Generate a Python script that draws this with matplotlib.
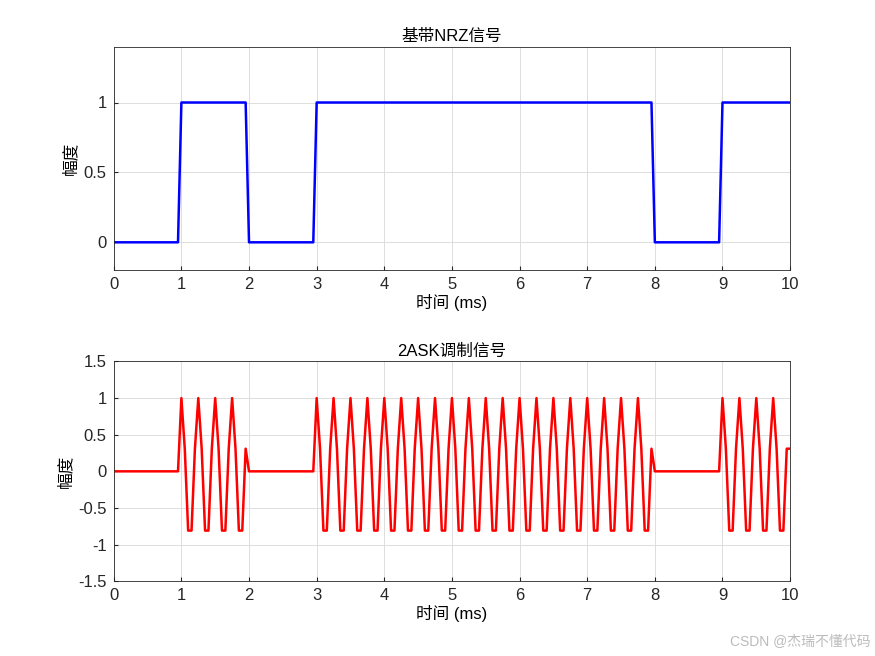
import matplotlib.pyplot as plt
import numpy as np

plt.rcParams['font.family'] = ['Liberation Sans', 'Noto Sans CJK SC']

# data
bits = [0, 1, 0, 1, 1, 1, 1, 1, 0, 1]
step = 0.05                                   # ms per sample
carrier_period = [1.0, 0.309, -0.809, -0.809, 0.309]   # one carrier cycle samples
cycles_per_bit = 4

t = np.arange(0, len(bits) + step / 2, step)
n_per_bit = len(carrier_period) * cycles_per_bit
nrz = []
ask = []
for i in range(len(t)):
    k = min(i // n_per_bit, len(bits) - 1)
    j = i - k * n_per_bit
    nrz.append(bits[k])
    ask.append(bits[k] * carrier_period[j % len(carrier_period)])
ask[-1] = bits[-1] * carrier_period[1]


def style(ax):
    ax.grid(True, color='#dddddd', linewidth=0.7)
    ax.tick_params(direction='in', labelsize=12, length=3, colors='#262626', pad=5)
    ax.set_xlim(0, 10)
    ax.set_xticks(range(11))
    for s in ax.spines.values():
        s.set_color('#262626')
        s.set_linewidth(0.6)
    ax.set_xlabel('时间 (ms)', fontsize=12, labelpad=1)
    ax.set_ylabel('幅度', fontsize=12)


fig = plt.figure(figsize=(8.75, 6.56), dpi=100)
ax1 = fig.add_axes([0.130, 0.588, 0.773, 0.341])
ax1.plot(t, nrz, color='#0000FF', linewidth=1.8)
ax1.set_ylim(-0.2, 1.4)
ax1.set_yticks([0, 0.5, 1])
ax1.set_yticklabels(['0', '0.5', '1'])
ax1.set_title('基带NRZ信号', fontsize=12, pad=4)
style(ax1)

ax2 = fig.add_axes([0.130, 0.114, 0.773, 0.335])
ax2.plot(t, ask, color='#FF0000', linewidth=1.8)
ax2.set_ylim(-1.5, 1.5)
ax2.set_yticks(np.arange(-1.5, 1.51, 0.5))
ax2.set_yticklabels(['-1.5', '-1', '-0.5', '0', '0.5', '1', '1.5'])
ax2.set_title('2ASK调制信号', fontsize=12, pad=4)
style(ax2)

fig.text(0.995, 0.01, 'CSDN @杰瑞不懂代码', ha='right', va='bottom',
         fontsize=10, color='#bbbbbb')

fig.savefig('out.png', dpi=100)
